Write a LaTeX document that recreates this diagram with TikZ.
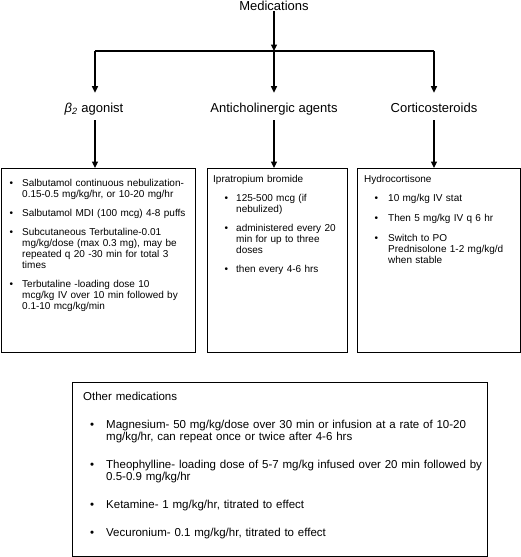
\documentclass[tikz,border=0pt]{standalone}
\usepackage{fontspec}
\setmainfont{Liberation Sans}
\usepackage{enumitem}
\usetikzlibrary{arrows.meta}
\newlist{blts}{itemize}{1}
\setlist[blts]{label=\textbullet, topsep=0pt, partopsep=0pt, parsep=0pt, itemsep=8pt}
\tikzset{
  conn/.style={line width=1.2pt},
  arr/.style={conn,-{Triangle[length=6.5pt,width=6pt]}},
  frame/.style={draw,line width=1.2pt,inner sep=0pt,anchor=north west},
  head/.style={font=\fontsize{13}{15}\selectfont,inner sep=0pt,anchor=base,text height=9.4pt,text depth=2.7pt},
  content/.style={inner sep=0pt,anchor=north west,align=left,font=\fontsize{10}{11}\selectfont},
  bigcontent/.style={inner sep=0pt,anchor=north west,align=left,font=\fontsize{11.5}{12}\selectfont},
}
\begin{document}
\begin{tikzpicture}[x=1pt,y=-1pt]
\useasboundingbox (0,0) rectangle (521,557);
% top
\node[font=\fontsize{13}{15}\selectfont,inner sep=0pt,anchor=base] (m) at (274,10) {Medications};
\coordinate (j) at (274,51);
\coordinate (jl) at (95,51);
\coordinate (jr) at (434,51);
\node[head] (l1) at (94,112) {\itshape β\textsubscript{2}\upshape\ agonist};
\node[head] (l2) at (274,112) {Anticholinergic agents};
\node[head] (l3) at (434,112) {Corticosteroids};
% boxes
\node[frame,minimum width=194pt,minimum height=184pt] (b1) at (1,168) {};
\node[frame,minimum width=140pt,minimum height=184pt] (b2) at (207,168) {};
\node[frame,minimum width=163pt,minimum height=184pt] (b3) at (357,168) {};
\node[frame,minimum width=415pt,minimum height=174pt] (b4) at (72,382) {};
% connectors
\draw[arr] ([yshift=-1pt]m.south) -- (j);
\draw[conn] (jl) -- (jr);
\draw[arr] (jl) -- ([yshift=9.7pt]l1.north -| jl);
\draw[arr] (j) -- ([yshift=9.7pt]l2.north);
\draw[arr] (jr) -- ([yshift=9.7pt]l3.north -| jr);
\draw[arr] ([yshift=-5.3pt]l1.south -| jl) -- (jl |- b1.north);
\draw[arr] ([yshift=-5.3pt]l2.south) -- (l2 |- b2.north);
\draw[arr] ([yshift=-5.3pt]l3.south -| jr) -- (jr |- b3.north);
% contents
\node[content,text width=230pt] (t1) at (5,175) {%
\begin{blts}[leftmargin=17pt,labelsep=9pt]
\item Salbutamol continuous nebulization-\newline 0.15-0.5 mg/kg/hr, or 10-20 mg/hr
\item Salbutamol MDI (100 mcg) 4-8 puffs
\item Subcutaneous Terbutaline-0.01\newline mg/kg/dose (max 0.3 mg), may be\newline repeated q 20 -30 min for total 3\newline times
\item Terbutaline -loading dose 10\newline mcg/kg IV over 10 min followed by\newline 0.1-10 mcg/kg/min
\end{blts}};
\node[content,text width=200pt] (t2) at (213,175.2) {%
Ipratropium bromide
\begin{blts}[leftmargin=23pt,labelsep=8pt,topsep=8pt]
\item 125-500 mcg (if\newline nebulized)
\item administered every 20\newline min for up to three\newline doses
\item then every 4-6 hrs
\end{blts}};
\node[content,text width=200pt] (t3) at (364,175.4) {%
Hydrocortisone
\begin{blts}[leftmargin=24pt,labelsep=10pt,topsep=8pt,itemsep=9pt]
\item 10 mg/kg IV stat
\item Then 5 mg/kg IV q 6 hr
\item Switch to PO\newline Prednisolone 1-2 mg/kg/d\newline when stable
\end{blts}};
\node[bigcontent,text width=440pt] (t4) at (83,391.6) {%
Other medications
\begin{blts}[leftmargin=23pt,labelsep=12pt,topsep=16pt,itemsep=16pt]
\item Magnesium- 50 mg/kg/dose over 30 min or infusion at a rate of 10-20\newline mg/kg/hr, can repeat once or twice after 4-6 hrs
\item Theophylline- loading dose of 5-7 mg/kg infused over 20 min followed by\newline 0.5-0.9 mg/kg/hr
\item Ketamine- 1 mg/kg/hr, titrated to effect
\item Vecuronium- 0.1 mg/kg/hr, titrated to effect
\end{blts}};
\end{tikzpicture}
\end{document}
